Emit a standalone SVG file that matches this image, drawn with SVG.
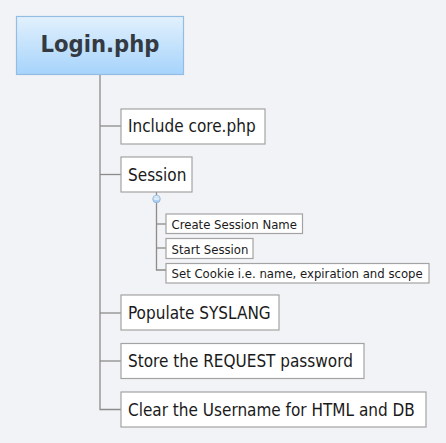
<svg xmlns="http://www.w3.org/2000/svg" width="446" height="443" viewBox="0 0 446 443">
<defs>
<linearGradient id="rootGrad" x1="0" y1="0" x2="0" y2="1">
<stop offset="0" stop-color="#e2f1fd"/>
<stop offset="1" stop-color="#a6d3fb"/>
</linearGradient>
<linearGradient id="btnGrad" x1="0" y1="0" x2="0" y2="1">
<stop offset="0" stop-color="#e4f0fb"/>
<stop offset="1" stop-color="#9cc4ea"/>
</linearGradient>
</defs>
<style>
.node rect{fill:#ffffff;stroke:#a3a3a3;stroke-width:1.2}
.main{font-family:"DejaVu Sans Condensed","DejaVu Sans",sans-serif;font-stretch:condensed;font-size:17px;fill:#1a1a1a}
.sub{font-family:"DejaVu Sans Condensed","DejaVu Sans",sans-serif;font-stretch:condensed;font-size:13px;fill:#1a1a1a}
.conn{fill:none;stroke:#8c8c8c;stroke-width:1.3}
</style>
<rect width="446" height="443" fill="#f2f3f6"/>
<g id="connectors">
<path class="conn" d="M100,75 V409.5 H121"/>
<path class="conn" d="M100,126 H121"/>
<path class="conn" d="M100,174.5 H121"/>
<path class="conn" d="M100,313 H121"/>
<path class="conn" d="M100,361 H121"/>
<path class="conn" d="M156.5,192 V270 H166"/>
<path class="conn" d="M156.5,224 H166"/>
<path class="conn" d="M156.5,248 H166"/>
</g>
<g id="root">
<rect x="16.5" y="16.5" width="167" height="58" fill="url(#rootGrad)" stroke="#94bde3" stroke-width="1.2"/>
<text x="100" y="52" text-anchor="middle" font-family="'DejaVu Sans Condensed','DejaVu Sans',sans-serif" font-stretch="condensed" font-weight="bold" font-size="23.5" fill="#333a42">Login.php</text>
</g>
<g id="include" class="node">
<rect x="121" y="109" width="144" height="35"/>
<text class="main" x="128" y="132">Include core.php</text>
</g>
<g id="session" class="node">
<rect x="121" y="157" width="71" height="35"/>
<text class="main" x="128" y="181">Session</text>
</g>
<g id="collapse">
<circle cx="156.5" cy="199" r="3.8" fill="url(#btnGrad)" stroke="#8fb4d8" stroke-width="0.8"/>
<path d="M154.3,199 H158.7" stroke="#ffffff" stroke-width="1"/>
</g>
<g id="create-session-name" class="node">
<rect x="166" y="214" width="136.5" height="19.5"/>
<text class="sub" x="171.5" y="229">Create Session Name</text>
</g>
<g id="start-session" class="node">
<rect x="166" y="238.5" width="87" height="20"/>
<text class="sub" x="171.5" y="253.5">Start Session</text>
</g>
<g id="set-cookie" class="node">
<rect x="166" y="263.5" width="263" height="19.5"/>
<text class="sub" x="171.5" y="278">Set Cookie i.e. name, expiration and scope</text>
</g>
<g id="populate" class="node">
<rect x="121" y="295" width="158" height="35"/>
<text class="main" x="128" y="318.5">Populate SYSLANG</text>
</g>
<g id="store" class="node">
<rect x="121" y="343.5" width="243" height="35"/>
<text class="main" x="128" y="366.5">Store the REQUEST password</text>
</g>
<g id="clear" class="node">
<rect x="121" y="392" width="305" height="35"/>
<text class="main" x="128" y="415.5">Clear the Username for HTML and DB</text>
</g>
</svg>
